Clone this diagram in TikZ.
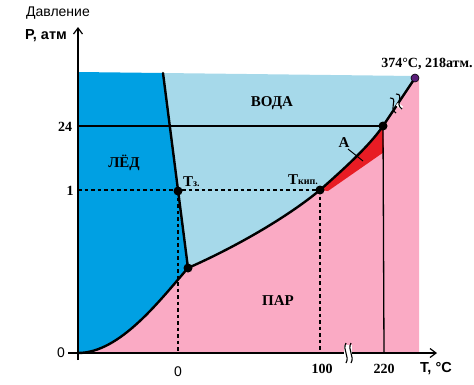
\documentclass[tikz,border=0pt]{standalone}
\usepackage{fontspec}
\setmainfont{Liberation Serif}
\newfontfamily\sansf{Liberation Sans}
\usetikzlibrary{arrows.meta}
\definecolor{ice}{RGB}{0,160,227}
\definecolor{water}{RGB}{166,217,234}
\definecolor{vapor}{RGB}{250,170,196}
\definecolor{hot}{RGB}{232,28,36}
\definecolor{crit}{RGB}{90,30,120}
\tikzset{
  curve/.style={line width=2.4pt, line cap=round},
  guide/.style={line width=1.3pt, dash pattern=on 3.5pt off 3pt},
  guidesolid/.style={line width=1.3pt},
  axis/.style={line width=1.2pt, -{Straight Barb[length=6pt,width=9pt,line width=1.2pt]}},
  dot/.style={circle, fill=black, inner sep=0pt, minimum size=9pt},
  lbl/.style={font=\bfseries\fontsize{15}{17}\selectfont},
  num/.style={font=\bfseries\fontsize{14}{16}\selectfont},
  sfl/.style={font=\sansf\fontsize{14}{16}\selectfont},
  sfb/.style={font=\sansf\bfseries\fontsize{14.5}{16}\selectfont},
  brk/.style={line width=1.1pt}
}
\begin{document}
\begin{tikzpicture}[x=1pt,y=-1pt]
\useasboundingbox (0,0) rectangle (474,384);
% regions
\fill[vapor] (78,353) .. controls (120,353) and (160,300) .. (188,268)
  .. controls (240,245) and (290,215) .. (320,190)
  .. controls (345,168) and (370,145) .. (383,126) -- (415,78) -- (419,80) -- (419,353) -- cycle;
\fill[water] (163,73) -- (415,76) -- (415,78) -- (383,126)
  .. controls (370,145) and (345,168) .. (320,190)
  .. controls (290,215) and (240,245) .. (188,268) -- cycle;
\fill[ice] (78,72) -- (163,73) -- (188,268)
  .. controls (160,300) and (120,353) .. (78,353) -- cycle;
\fill[hot] (320,190) .. controls (345,168) and (370,145) .. (383,126) -- (384,152) -- (328,191) -- cycle;
% guides
\coordinate (tz) at (178,191);
\coordinate (tp) at (188,268);
\coordinate (tk) at (320,190);
\coordinate (tc) at (383,126);
\coordinate (cr) at (415,78);
\coordinate (y1) at (78,190);
\coordinate (y24) at (78,126);
\coordinate (x0) at (178,353);
\coordinate (x100) at (320,353);
\coordinate (x220) at (384,353);
\draw[guide] (y1) -- (tk);
\draw[guide] (tz) -- (x0);
\draw[guide] (tk) -- (x100);
\draw[guidesolid] (y24) -- (tc);
\draw[guidesolid] (tc) -- (x220);
% curves
\draw[curve] (78,353) .. controls (120,353) and (160,300) .. (tp)
  .. controls (240,245) and (290,215) .. (tk)
  .. controls (345,168) and (370,145) .. (tc) -- (cr);
\draw[curve] (163,73) -- (tp);
% break marks on the curve
\draw[white,line width=3.5pt] (397,104) -- (402,108);
\draw[brk] (390,98) .. controls (399,98) and (388,108) .. (396,113);
\draw[brk] (396,94) .. controls (405,94) and (394,104) .. (402,109);
% axes
\coordinate (ob) at (78,360);
\coordinate (ot) at (78,27);
\coordinate (ol) at (68,353);
\coordinate (or) at (437,353);
\draw[axis] (ob) -- (ot);
\draw[axis] (ol) -- (or);
\fill[white] (344,345) rectangle (352,361);
\draw[brk] (346,343) .. controls (342,350) and (350,356) .. (346,363);
\draw[brk] (351,343) .. controls (347,350) and (355,356) .. (351,363);
% dots
\node[dot] (dtz) at (tz) {};
\node[dot] (dtp) at (tp) {};
\node[dot] (dtk) at (tk) {};
\node[dot] (dtc) at (tc) {};
\node[circle, fill=crit, draw=black, line width=0.6pt, inner sep=0pt, minimum size=8pt] (dcr) at (cr) {};
% leader for A
\coordinate (la) at (348,149);
\coordinate (lb) at (363,161);
\draw[line width=1pt] (la) -- (lb);
% labels
\node[sfl] (tdav) at (58,13) {Давление};
\node[sfb] (tpa) at (46,36) {P, атм};
\node[num] (t24) at (65,127) {24};
\node[num] (t1) at (70,191) {1};
\node[sfl] (t0y) at (61,353) {0};
\node[sfl] (t0x) at (178,372) {0};
\node[num] (t100) at (322,369) {100};
\node[num] (t220) at (384,369) {220};
\node[sfb] (tT) at (436,369) {T, °C};
\node[lbl] (tled) at (124,163) {ЛЁД};
\node[lbl] (tvoda) at (272,103) {ВОДА};
\node[lbl] (tpar) at (278,301) {ПАР};
\node[font=\bfseries\fontsize{14}{16}\selectfont] (tcr) at (427,64) {374°C, 218атм.};
\node[font=\bfseries\fontsize{15}{17}\selectfont, anchor=base west, inner sep=0pt] (tTz) at (183,186) {T\fontsize{10}{12}\selectfont з.};
\node[font=\bfseries\fontsize{15}{17}\selectfont, anchor=base west, inner sep=0pt] (tTk) at (288,184) {T\fontsize{10}{12}\selectfont кип.};
\node[lbl] (tA) at (344,143) {A};
\end{tikzpicture}
\end{document}
